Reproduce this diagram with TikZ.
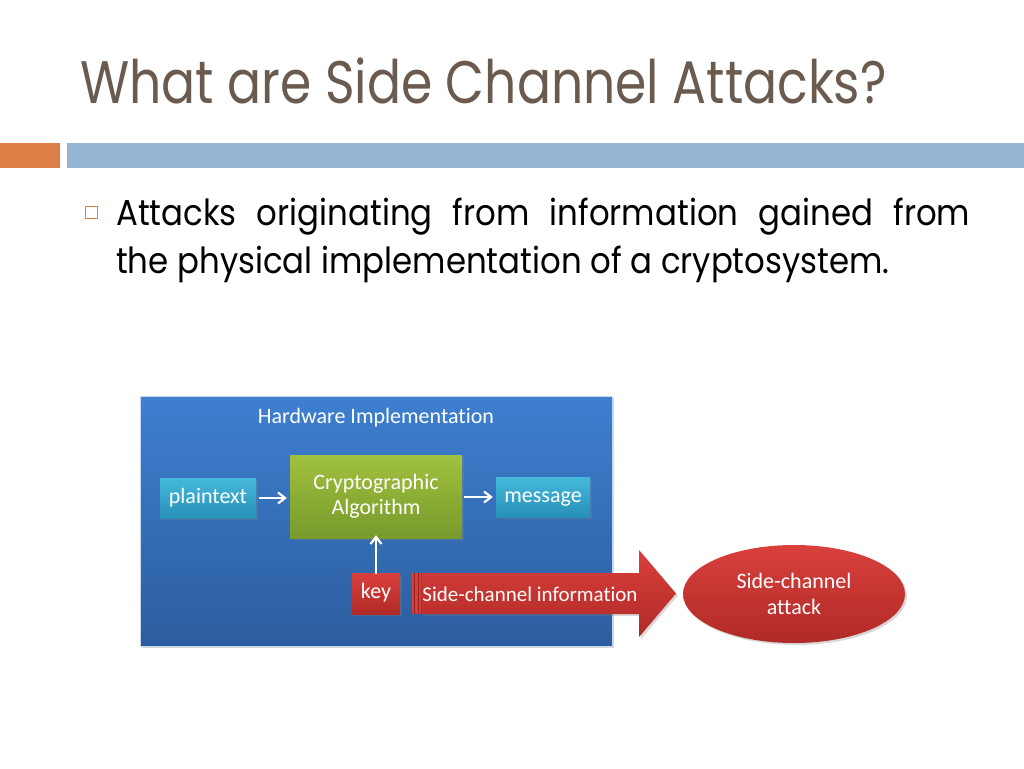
\documentclass[tikz,border=0pt]{standalone}
\usepackage{fontspec}
\setmainfont{Poppins}
\newfontfamily\titlefont[FakeStretch=0.84]{Poppins}
\newfontfamily\bodyfont[FakeStretch=0.9]{Poppins}
\newfontfamily\diag[Ligatures=NoCommon]{Carlito}
\usetikzlibrary{arrows.meta,shadows,shapes.geometric}
\definecolor{titlec}{HTML}{6B5A4E}
\definecolor{orangec}{HTML}{DD8047}
\definecolor{bluebar}{HTML}{94B6D2}
\definecolor{hwtop}{HTML}{3E7FD0}
\definecolor{hwbot}{HTML}{2C5D9E}
\definecolor{cyantop}{HTML}{45B9DB}
\definecolor{cyanbot}{HTML}{2790B8}
\definecolor{greentop}{HTML}{A1C13F}
\definecolor{greenbot}{HTML}{789A2B}
\definecolor{redtop}{HTML}{D9403C}
\definecolor{redbot}{HTML}{B02A27}
\tikzset{
  box/.style={draw=none, inner sep=0pt, text=white, font=\diag\fontsize{22}{25}\selectfont,
    align=center, drop shadow={shadow xshift=2pt, shadow yshift=-2pt, opacity=0.35}},
  onel/.style={text height=14pt, text depth=4pt},
  wharrow/.style={draw=white, line width=2.2pt, -{Straight Barb[length=7pt,width=11pt]}}
}
\begin{document}
\begin{tikzpicture}[x=1pt,y=-1pt]
\useasboundingbox (0,0) rectangle (1024,768);
\fill[white] (0,0) rectangle (1024,768);
% title
\node[anchor=base west, inner sep=0pt, text=titlec, font=\titlefont\fontsize{60}{70}\selectfont] (title) at (80,103) {What are Side Channel Attacks?};
% bars
\fill[orangec] (0,143) rectangle (60,168);
\fill[bluebar] (67,143) rectangle (1024,168);
% bullet
\draw[orangec, line width=1pt] (85.5,206.5) rectangle (97.5,218.5);
\node[anchor=north west, inner sep=0pt, text width=854pt, align=justify, font=\bodyfont\fontsize{36}{48}\selectfont] (body) at (116,198)
 {Attacks originating from information gained from\linebreak the physical implementation of a cryptosystem.};
% hardware box
\shade[top color=hwtop, bottom color=hwbot, drop shadow={shadow xshift=2pt, shadow yshift=-2pt, opacity=0.3}] (140,396) rectangle (612,646);
\draw[white!70!hwtop, line width=0.6pt] (140,396) rectangle (612,646);
\node[text=white, font=\diag\fontsize{22}{26}\selectfont] (hw) at (376,418) {Hardware Implementation};
% boxes
\node[box, onel, top color=cyantop, bottom color=cyanbot, minimum width=96pt, minimum height=40pt] (plain) at (208,498) {plaintext};
\node[box, top color=greentop, bottom color=greenbot, minimum width=172pt, minimum height=83pt] (crypto) at (376,496.5) {Cryptographic\\Algorithm};
\node[box, onel, top color=cyantop, bottom color=cyanbot, minimum width=94pt, minimum height=40pt] (msg) at (543,497) {message};
\node[box, onel, top color=redtop, bottom color=redbot, minimum width=48pt, minimum height=41pt] (key) at (376,593.5) {key};
% arrows
\draw[wharrow] (plain.east) ++(3,0) -- ([xshift=-3pt]crypto.west |- plain.east);
\draw[wharrow] (crypto.east |- msg.west) ++(2,0) -- ([xshift=-3pt]msg.west);
\draw[wharrow] ([yshift=-1pt]key.north) -- ([yshift=3pt]crypto.south);
% side-channel arrow
\fill[redtop!90!redbot] (412,573) rectangle (421,614);
\draw[redbot!80!black, line width=0.7pt] (414.5,573) -- (414.5,614) (418,573) -- (418,614) (421,573) -- (421,614);
\shade[top color=redtop, bottom color=redbot, drop shadow={shadow xshift=2pt, shadow yshift=-2pt, opacity=0.3}]
  (421.4,573) -- (639,573) -- (639,550) -- (676,593.5) -- (639,637) -- (639,614) -- (421.4,614) -- cycle;
\node[text=white, font=\diag\fontsize{21}{24}\selectfont] (sci) at (530,594) {Side-channel information};
% ellipse
\node[ellipse, top color=redtop, bottom color=redbot, draw=none, minimum width=222pt, minimum height=98pt, inner sep=0pt,
  text=white, font=\diag\fontsize{22}{26}\selectfont, align=center,
  drop shadow={shadow xshift=2pt, shadow yshift=-2pt, opacity=0.3}] (attack) at (794,594) {Side-channel\\attack};
\end{tikzpicture}
\end{document}
